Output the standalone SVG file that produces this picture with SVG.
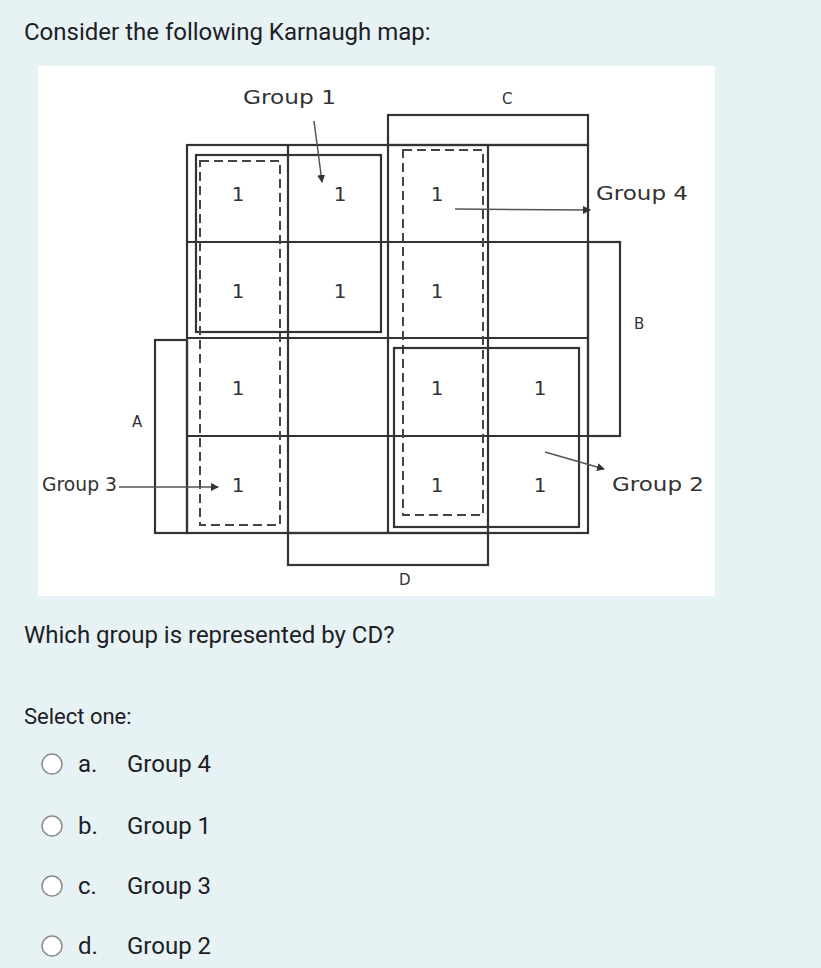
<svg xmlns="http://www.w3.org/2000/svg" width="821" height="968" viewBox="0 0 821 968">
<defs>
<style>
.t{font-family:Roboto,"Liberation Sans",sans-serif;fill:#1d2125}
.m{font-family:"DejaVu Sans","Liberation Sans",sans-serif;fill:#333;font-size:20px}
.g{fill:none;stroke:#333;stroke-width:2.2}
.d{fill:none;stroke:#444;stroke-width:2;stroke-dasharray:9,5}
.a{stroke:#555;stroke-width:1.5;fill:none}
.r{fill:#fff;stroke:#8a8d90;stroke-width:1.5}
</style>
<marker id="ah" markerWidth="8" markerHeight="8" refX="7" refY="4" orient="auto" markerUnits="userSpaceOnUse"><path d="M0,0 L8,4 L0,8 z" fill="#333"/></marker>
</defs>
<rect width="821" height="968" fill="#e7f2f5"/>
<text class="t" x="24" y="40" font-size="24">Consider the following Karnaugh map:</text>
<rect x="38" y="66" width="677" height="530" fill="#fff"/>
<g id="grid">
<rect class="g" x="187" y="145" width="401" height="388"/>
<path class="g" d="M288 145V533M388 145V533M488 145V533M187 242H588M187 338H588M187 436H588"/>
<rect class="g" x="388" y="115" width="200" height="30"/>
<rect class="g" x="588" y="242" width="32" height="194"/>
<rect class="g" x="155" y="340" width="32" height="193"/>
<rect class="g" x="288" y="533" width="200" height="32"/>
</g>
<g id="group1"><rect class="g" x="196" y="155" width="185" height="177"/></g>
<g id="group3"><rect class="d" x="200" y="161" width="80" height="364"/></g>
<g id="groupC"><rect class="d" x="403" y="150" width="80" height="365"/></g>
<g id="group2"><rect class="g" x="394" y="348" width="185" height="179"/></g>
<g id="cells" class="m" text-anchor="middle">
<text x="238" y="201">1</text><text x="340" y="201">1</text><text x="437" y="201">1</text>
<text x="238" y="298">1</text><text x="340" y="298">1</text><text x="437" y="298">1</text>
<text x="238" y="395">1</text><text x="437" y="395">1</text><text x="540" y="395">1</text>
<text x="238" y="492">1</text><text x="437" y="492">1</text><text x="540" y="492">1</text>
</g>
<g id="labels" class="m">
<text x="243" y="104" textLength="93" lengthAdjust="spacingAndGlyphs">Group 1</text>
<text x="502" y="104" font-size="15">C</text>
<text x="596" y="200" textLength="92" lengthAdjust="spacingAndGlyphs">Group 4</text>
<text x="634" y="329" font-size="15">B</text>
<text x="132" y="427" font-size="15">A</text>
<text x="42" y="491" textLength="75" lengthAdjust="spacingAndGlyphs">Group 3</text>
<text x="612" y="491" textLength="92" lengthAdjust="spacingAndGlyphs">Group 2</text>
<text x="399" y="585" font-size="15">D</text>
</g>
<g id="connectors">
<path class="a" d="M314 121L322 182" marker-end="url(#ah)"/>
<path class="a" d="M455 209L590 210" marker-end="url(#ah)"/>
<path class="a" d="M119 487L218 487" marker-end="url(#ah)"/>
<path class="a" d="M545 452L604 469" marker-end="url(#ah)"/>
</g>
<text class="t" x="24" y="643" font-size="24">Which group is represented by CD?</text>
<text class="t" x="24" y="724" font-size="22">Select one:</text>
<g id="options" class="t" font-size="24">
<circle class="r" cx="52" cy="764" r="10"/><text x="78" y="772">a.</text><text x="127" y="772">Group 4</text>
<circle class="r" cx="52" cy="826" r="10"/><text x="78" y="834">b.</text><text x="127" y="834">Group 1</text>
<circle class="r" cx="52" cy="886" r="10"/><text x="78" y="894">c.</text><text x="127" y="894">Group 3</text>
<circle class="r" cx="52" cy="946" r="10"/><text x="78" y="954">d.</text><text x="127" y="954">Group 2</text>
</g>
</svg>
